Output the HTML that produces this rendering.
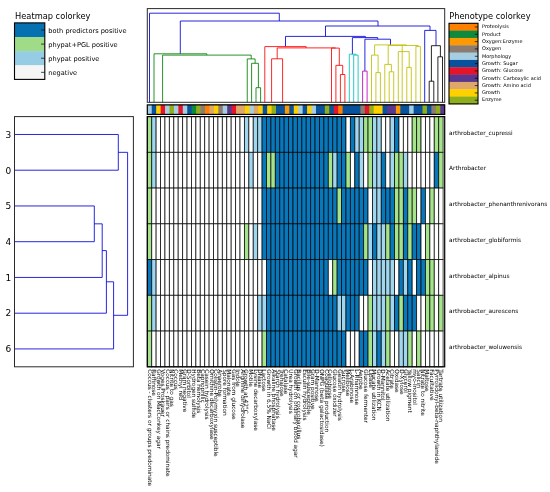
<!DOCTYPE html>
<html><head><meta charset="utf-8"><title>Heatmap</title>
<style>html,body{margin:0;padding:0;background:#fff}svg{display:block}</style></head>
<body>
<svg width="550" height="492" viewBox="0 0 550 492" font-family="'DejaVu Sans', 'Liberation Sans', sans-serif" fill="#000">
<rect width="550" height="492" fill="#fff"/>
<text x="15.1" y="19.3" font-size="8.25">Heatmap colorkey</text>
<rect x="14.5" y="22.90" width="30.3" height="14.43" fill="#0571b0"/>
<line x1="41.0" x2="44.8" y1="29.96" y2="29.96" stroke="#000" stroke-width="0.7"/>
<text x="48.3" y="32.51" font-size="6.6">both predictors positive</text>
<rect x="14.5" y="37.02" width="30.3" height="14.43" fill="#a0dc87"/>
<line x1="41.0" x2="44.8" y1="44.09" y2="44.09" stroke="#000" stroke-width="0.7"/>
<text x="48.3" y="46.64" font-size="6.6">phypat+PGL positive</text>
<rect x="14.5" y="51.15" width="30.3" height="14.43" fill="#96cde4"/>
<line x1="41.0" x2="44.8" y1="58.21" y2="58.21" stroke="#000" stroke-width="0.7"/>
<text x="48.3" y="60.76" font-size="6.6">phypat positive</text>
<rect x="14.5" y="65.28" width="30.3" height="14.43" fill="#f5f5f5"/>
<line x1="41.0" x2="44.8" y1="72.34" y2="72.34" stroke="#000" stroke-width="0.7"/>
<text x="48.3" y="74.89" font-size="6.6">negative</text>
<rect x="14.5" y="22.9" width="30.3" height="56.50" fill="none" stroke="#000" stroke-width="1.1"/>
<text x="449.2" y="19.2" font-size="8.25">Phenotype colorkey</text>
<rect x="449" y="23.30" width="29" height="7.63" fill="#ff7f00"/>
<line x1="474.8" x2="478" y1="26.96" y2="26.96" stroke="#000" stroke-width="0.7"/>
<text x="482" y="28.21" font-size="4.96">Proteolysis</text>
<rect x="449" y="30.63" width="29" height="7.63" fill="#0f8a3c"/>
<line x1="474.8" x2="478" y1="34.29" y2="34.29" stroke="#000" stroke-width="0.7"/>
<text x="482" y="35.54" font-size="4.96">Product</text>
<rect x="449" y="37.95" width="29" height="7.63" fill="#ff9900"/>
<line x1="474.8" x2="478" y1="41.62" y2="41.62" stroke="#000" stroke-width="0.7"/>
<text x="482" y="42.87" font-size="4.96">Oxygen:Enzyme</text>
<rect x="449" y="45.28" width="29" height="7.63" fill="#8c7b6e"/>
<line x1="474.8" x2="478" y1="48.95" y2="48.95" stroke="#000" stroke-width="0.7"/>
<text x="482" y="50.20" font-size="4.96">Oxygen</text>
<rect x="449" y="52.61" width="29" height="7.63" fill="#a6cee3"/>
<line x1="474.8" x2="478" y1="56.27" y2="56.27" stroke="#000" stroke-width="0.7"/>
<text x="482" y="57.52" font-size="4.96">Morphology</text>
<rect x="449" y="59.94" width="29" height="7.63" fill="#08519c"/>
<line x1="474.8" x2="478" y1="63.60" y2="63.60" stroke="#000" stroke-width="0.7"/>
<text x="482" y="64.85" font-size="4.96">Growth: Sugar</text>
<rect x="449" y="67.26" width="29" height="7.63" fill="#e6142a"/>
<line x1="474.8" x2="478" y1="70.93" y2="70.93" stroke="#000" stroke-width="0.7"/>
<text x="482" y="72.18" font-size="4.96">Growth: Glucose</text>
<rect x="449" y="74.59" width="29" height="7.63" fill="#59378f"/>
<line x1="474.8" x2="478" y1="78.25" y2="78.25" stroke="#000" stroke-width="0.7"/>
<text x="482" y="79.50" font-size="4.96">Growth: Carboxylic acid</text>
<rect x="449" y="81.92" width="29" height="7.63" fill="#e0a868"/>
<line x1="474.8" x2="478" y1="85.58" y2="85.58" stroke="#000" stroke-width="0.7"/>
<text x="482" y="86.83" font-size="4.96">Growth: Amino acid</text>
<rect x="449" y="89.25" width="29" height="7.63" fill="#ffd000"/>
<line x1="474.8" x2="478" y1="92.91" y2="92.91" stroke="#000" stroke-width="0.7"/>
<text x="482" y="94.16" font-size="4.96">Growth</text>
<rect x="449" y="96.57" width="29" height="7.63" fill="#8fae1b"/>
<line x1="474.8" x2="478" y1="100.24" y2="100.24" stroke="#000" stroke-width="0.7"/>
<text x="482" y="101.49" font-size="4.96">Enzyme</text>
<rect x="449" y="23.3" width="29" height="80.60" fill="none" stroke="#000" stroke-width="1.1"/>
<path d="M149.50 102.30 L149.50 13.20 L279.30 13.20 L279.30 21.00 M180.30 53.80 L180.30 21.00 L378.00 21.00 L378.00 26.00 M325.50 36.40 L325.50 26.00 L430.00 26.00 L430.00 30.40 M424.70 102.30 L424.70 30.40 L436.00 30.40 L436.00 45.70 M285.50 46.60 L285.50 36.40 L365.40 36.40 L365.40 37.60 M352.40 54.20 L352.40 37.60 L377.70 37.60 L377.70 39.20 M364.90 71.10 L364.90 39.20 L390.50 39.20 L390.50 44.90" fill="none" stroke="#0000d8" stroke-width="0.85" stroke-linejoin="miter"/>
<path d="M154.00 102.30 L154.00 53.80 L206.80 53.80 L206.80 55.10 M162.60 102.30 L162.60 55.10 L251.20 55.10 L251.20 58.90 M247.25 102.30 L247.25 58.90 L255.10 58.90 L255.10 63.30 M251.60 102.30 L251.60 63.30 L258.40 63.30 L258.40 87.70 M256.00 102.30 L256.00 87.70 L260.60 87.70 L260.60 102.30" fill="none" stroke="#008000" stroke-width="0.85" stroke-linejoin="miter"/>
<path d="M264.80 102.30 L264.80 46.60 L306.20 46.60 L306.20 47.90 M277.20 58.80 L277.20 47.90 L335.40 47.90 L335.40 48.10 M271.60 102.30 L271.60 58.80 L282.60 58.80 L282.60 102.30 M331.50 102.30 L331.50 48.10 L339.30 48.10 L339.30 65.35 M335.90 102.30 L335.90 65.35 L342.70 65.35 L342.70 74.50 M340.40 102.30 L340.40 74.50 L344.90 74.50 L344.90 102.30" fill="none" stroke="#ff0000" stroke-width="0.85" stroke-linejoin="miter"/>
<path d="M349.30 102.30 L349.30 54.20 L355.90 54.20 L355.90 55.10 M353.70 102.30 L353.70 55.10 L358.10 55.10 L358.10 102.30" fill="none" stroke="#00bfbf" stroke-width="0.85" stroke-linejoin="miter"/>
<path d="M362.60 102.30 L362.60 71.10 L367.10 71.10 L367.10 102.30" fill="none" stroke="#bf00bf" stroke-width="0.85" stroke-linejoin="miter"/>
<path d="M374.60 55.10 L374.60 44.90 L406.40 44.90 L406.40 45.50 M388.20 64.40 L388.20 45.50 L418.10 45.50 L418.10 46.40 M402.20 45.50 L402.20 102.30 M415.90 102.30 L415.90 46.40 L420.40 46.40 L420.40 102.30 M371.50 102.30 L371.50 55.10 L378.10 55.10 L378.10 72.60 M375.90 102.30 L375.90 72.60 L380.40 72.60 L380.40 102.30 M384.80 102.30 L384.80 64.40 L391.40 64.40 L391.40 71.80 M389.20 102.30 L389.20 71.80 L393.70 71.80 L393.70 102.30 M398.30 102.30 L398.30 51.60 L409.20 51.60 L409.20 67.40 M406.80 102.30 L406.80 67.40 L411.30 67.40 L411.30 102.30" fill="none" stroke="#bfbf00" stroke-width="0.85" stroke-linejoin="miter"/>
<path d="M431.40 81.20 L431.40 45.70 L440.40 45.70 L440.40 56.80 M437.90 102.30 L437.90 56.80 L442.50 56.80 L442.50 102.30 M429.20 102.30 L429.20 81.20 L433.80 81.20 L433.80 102.30" fill="none" stroke="#000" stroke-width="0.85" stroke-linejoin="miter"/>
<rect x="147.3" y="8.6" width="297.40" height="93.70" fill="none" stroke="#2a2a2a" stroke-width="1.0"/>
<rect x="147.3" y="104.9" width="297.40" height="9.50" fill="#a6cee3"/>
<rect x="147.30" y="104.9" width="297.40" height="9.50" fill="#a6cee3"/>
<rect x="151.74" y="104.9" width="292.96" height="9.50" fill="#08519c"/>
<rect x="156.18" y="104.9" width="288.52" height="9.50" fill="#ffd000"/>
<rect x="160.62" y="104.9" width="284.08" height="9.50" fill="#e6142a"/>
<rect x="165.06" y="104.9" width="279.64" height="9.50" fill="#a6cee3"/>
<rect x="169.49" y="104.9" width="275.21" height="9.50" fill="#8fae1b"/>
<rect x="173.93" y="104.9" width="270.77" height="9.50" fill="#a6cee3"/>
<rect x="178.37" y="104.9" width="266.33" height="9.50" fill="#e6142a"/>
<rect x="182.81" y="104.9" width="261.89" height="9.50" fill="#a6cee3"/>
<rect x="187.25" y="104.9" width="257.45" height="9.50" fill="#08519c"/>
<rect x="191.69" y="104.9" width="253.01" height="9.50" fill="#0f8a3c"/>
<rect x="196.13" y="104.9" width="248.57" height="9.50" fill="#8fae1b"/>
<rect x="200.57" y="104.9" width="244.13" height="9.50" fill="#8c7b6e"/>
<rect x="205.00" y="104.9" width="239.70" height="9.50" fill="#ff7f00"/>
<rect x="209.44" y="104.9" width="235.26" height="9.50" fill="#e0a868"/>
<rect x="213.88" y="104.9" width="230.82" height="9.50" fill="#ffd000"/>
<rect x="218.32" y="104.9" width="226.38" height="9.50" fill="#8c7b6e"/>
<rect x="222.76" y="104.9" width="221.94" height="9.50" fill="#a6cee3"/>
<rect x="227.20" y="104.9" width="217.50" height="9.50" fill="#59378f"/>
<rect x="231.64" y="104.9" width="213.06" height="9.50" fill="#e6142a"/>
<rect x="236.08" y="104.9" width="208.62" height="9.50" fill="#e0a868"/>
<rect x="244.95" y="104.9" width="199.75" height="9.50" fill="#ffd000"/>
<rect x="249.39" y="104.9" width="195.31" height="9.50" fill="#a6cee3"/>
<rect x="253.83" y="104.9" width="190.87" height="9.50" fill="#e0a868"/>
<rect x="258.27" y="104.9" width="186.43" height="9.50" fill="#ffd000"/>
<rect x="262.71" y="104.9" width="181.99" height="9.50" fill="#08519c"/>
<rect x="267.15" y="104.9" width="177.55" height="9.50" fill="#ffd000"/>
<rect x="271.59" y="104.9" width="173.11" height="9.50" fill="#8fae1b"/>
<rect x="276.03" y="104.9" width="168.67" height="9.50" fill="#08519c"/>
<rect x="284.90" y="104.9" width="159.80" height="9.50" fill="#ff9900"/>
<rect x="289.34" y="104.9" width="155.36" height="9.50" fill="#08519c"/>
<rect x="293.78" y="104.9" width="150.92" height="9.50" fill="#ffd000"/>
<rect x="298.22" y="104.9" width="146.48" height="9.50" fill="#a6cee3"/>
<rect x="302.66" y="104.9" width="142.04" height="9.50" fill="#08519c"/>
<rect x="307.10" y="104.9" width="137.60" height="9.50" fill="#ffd000"/>
<rect x="311.54" y="104.9" width="133.16" height="9.50" fill="#a6cee3"/>
<rect x="315.97" y="104.9" width="128.73" height="9.50" fill="#08519c"/>
<rect x="324.85" y="104.9" width="119.85" height="9.50" fill="#8fae1b"/>
<rect x="329.29" y="104.9" width="115.41" height="9.50" fill="#08519c"/>
<rect x="333.73" y="104.9" width="110.97" height="9.50" fill="#e6142a"/>
<rect x="338.17" y="104.9" width="106.53" height="9.50" fill="#ff7f00"/>
<rect x="342.61" y="104.9" width="102.09" height="9.50" fill="#08519c"/>
<rect x="360.36" y="104.9" width="84.34" height="9.50" fill="#8c7b6e"/>
<rect x="364.80" y="104.9" width="79.90" height="9.50" fill="#e6142a"/>
<rect x="369.24" y="104.9" width="75.46" height="9.50" fill="#8fae1b"/>
<rect x="373.68" y="104.9" width="71.02" height="9.50" fill="#ffd000"/>
<rect x="382.56" y="104.9" width="62.14" height="9.50" fill="#08519c"/>
<rect x="387.00" y="104.9" width="57.70" height="9.50" fill="#59378f"/>
<rect x="395.87" y="104.9" width="48.83" height="9.50" fill="#ff9900"/>
<rect x="400.31" y="104.9" width="44.39" height="9.50" fill="#08519c"/>
<rect x="409.19" y="104.9" width="35.51" height="9.50" fill="#a6cee3"/>
<rect x="413.63" y="104.9" width="31.07" height="9.50" fill="#08519c"/>
<rect x="422.51" y="104.9" width="22.19" height="9.50" fill="#8fae1b"/>
<rect x="426.94" y="104.9" width="17.76" height="9.50" fill="#08519c"/>
<rect x="431.38" y="104.9" width="13.32" height="9.50" fill="#8c7b6e"/>
<rect x="435.82" y="104.9" width="8.88" height="9.50" fill="#8fae1b"/>
<rect x="440.26" y="104.9" width="4.44" height="9.50" fill="#59378f"/>
<rect x="147.3" y="104.9" width="297.40" height="9.50" fill="none" stroke="#000" stroke-width="1.2"/>
<rect x="147.3" y="116.6" width="297.40" height="250.20" fill="#fff"/>
<rect x="147.30" y="116.60" width="4.415" height="35.74" fill="#a6e48c" stroke="#000" stroke-opacity="0.8" stroke-width="0.9"/>
<rect x="151.72" y="116.60" width="4.415" height="35.74" fill="#a0d6ee" stroke="#000" stroke-opacity="0.8" stroke-width="0.9"/>
<rect x="156.13" y="116.60" width="4.415" height="35.74" fill="#ffffff" stroke="#000" stroke-opacity="0.8" stroke-width="0.9"/>
<rect x="160.55" y="116.60" width="4.415" height="35.74" fill="#ffffff" stroke="#000" stroke-opacity="0.8" stroke-width="0.9"/>
<rect x="164.96" y="116.60" width="4.415" height="35.74" fill="#ffffff" stroke="#000" stroke-opacity="0.8" stroke-width="0.9"/>
<rect x="169.38" y="116.60" width="4.415" height="35.74" fill="#ffffff" stroke="#000" stroke-opacity="0.8" stroke-width="0.9"/>
<rect x="173.79" y="116.60" width="4.415" height="35.74" fill="#ffffff" stroke="#000" stroke-opacity="0.8" stroke-width="0.9"/>
<rect x="178.21" y="116.60" width="4.415" height="35.74" fill="#ffffff" stroke="#000" stroke-opacity="0.8" stroke-width="0.9"/>
<rect x="182.62" y="116.60" width="4.415" height="35.74" fill="#ffffff" stroke="#000" stroke-opacity="0.8" stroke-width="0.9"/>
<rect x="187.04" y="116.60" width="4.415" height="35.74" fill="#ffffff" stroke="#000" stroke-opacity="0.8" stroke-width="0.9"/>
<rect x="191.45" y="116.60" width="4.415" height="35.74" fill="#ffffff" stroke="#000" stroke-opacity="0.8" stroke-width="0.9"/>
<rect x="195.87" y="116.60" width="4.415" height="35.74" fill="#ffffff" stroke="#000" stroke-opacity="0.8" stroke-width="0.9"/>
<rect x="200.28" y="116.60" width="4.415" height="35.74" fill="#ffffff" stroke="#000" stroke-opacity="0.8" stroke-width="0.9"/>
<rect x="204.70" y="116.60" width="4.415" height="35.74" fill="#ffffff" stroke="#000" stroke-opacity="0.8" stroke-width="0.9"/>
<rect x="209.11" y="116.60" width="4.415" height="35.74" fill="#ffffff" stroke="#000" stroke-opacity="0.8" stroke-width="0.9"/>
<rect x="213.53" y="116.60" width="4.415" height="35.74" fill="#ffffff" stroke="#000" stroke-opacity="0.8" stroke-width="0.9"/>
<rect x="217.94" y="116.60" width="4.415" height="35.74" fill="#ffffff" stroke="#000" stroke-opacity="0.8" stroke-width="0.9"/>
<rect x="222.36" y="116.60" width="4.415" height="35.74" fill="#ffffff" stroke="#000" stroke-opacity="0.8" stroke-width="0.9"/>
<rect x="226.77" y="116.60" width="4.415" height="35.74" fill="#ffffff" stroke="#000" stroke-opacity="0.8" stroke-width="0.9"/>
<rect x="231.19" y="116.60" width="4.415" height="35.74" fill="#ffffff" stroke="#000" stroke-opacity="0.8" stroke-width="0.9"/>
<rect x="235.60" y="116.60" width="4.415" height="35.74" fill="#ffffff" stroke="#000" stroke-opacity="0.8" stroke-width="0.9"/>
<rect x="240.02" y="116.60" width="4.415" height="35.74" fill="#ffffff" stroke="#000" stroke-opacity="0.8" stroke-width="0.9"/>
<rect x="244.43" y="116.60" width="4.415" height="35.74" fill="#a0d6ee" stroke="#000" stroke-opacity="0.8" stroke-width="0.9"/>
<rect x="248.85" y="116.60" width="4.415" height="35.74" fill="#ffffff" stroke="#000" stroke-opacity="0.8" stroke-width="0.9"/>
<rect x="253.26" y="116.60" width="4.415" height="35.74" fill="#a0d6ee" stroke="#000" stroke-opacity="0.8" stroke-width="0.9"/>
<rect x="257.68" y="116.60" width="4.415" height="35.74" fill="#a0d6ee" stroke="#000" stroke-opacity="0.8" stroke-width="0.9"/>
<rect x="262.09" y="116.60" width="4.415" height="35.74" fill="#0878bc" stroke="#000" stroke-opacity="0.8" stroke-width="0.9"/>
<rect x="266.50" y="116.60" width="4.415" height="35.74" fill="#0878bc" stroke="#000" stroke-opacity="0.8" stroke-width="0.9"/>
<rect x="270.92" y="116.60" width="4.415" height="35.74" fill="#0878bc" stroke="#000" stroke-opacity="0.8" stroke-width="0.9"/>
<rect x="275.34" y="116.60" width="4.415" height="35.74" fill="#0878bc" stroke="#000" stroke-opacity="0.8" stroke-width="0.9"/>
<rect x="279.75" y="116.60" width="4.415" height="35.74" fill="#0878bc" stroke="#000" stroke-opacity="0.8" stroke-width="0.9"/>
<rect x="284.17" y="116.60" width="4.415" height="35.74" fill="#0878bc" stroke="#000" stroke-opacity="0.8" stroke-width="0.9"/>
<rect x="288.58" y="116.60" width="4.415" height="35.74" fill="#0878bc" stroke="#000" stroke-opacity="0.8" stroke-width="0.9"/>
<rect x="293.00" y="116.60" width="4.415" height="35.74" fill="#0878bc" stroke="#000" stroke-opacity="0.8" stroke-width="0.9"/>
<rect x="297.41" y="116.60" width="4.415" height="35.74" fill="#0878bc" stroke="#000" stroke-opacity="0.8" stroke-width="0.9"/>
<rect x="301.83" y="116.60" width="4.415" height="35.74" fill="#0878bc" stroke="#000" stroke-opacity="0.8" stroke-width="0.9"/>
<rect x="306.24" y="116.60" width="4.415" height="35.74" fill="#0878bc" stroke="#000" stroke-opacity="0.8" stroke-width="0.9"/>
<rect x="310.65" y="116.60" width="4.415" height="35.74" fill="#0878bc" stroke="#000" stroke-opacity="0.8" stroke-width="0.9"/>
<rect x="315.07" y="116.60" width="4.415" height="35.74" fill="#0878bc" stroke="#000" stroke-opacity="0.8" stroke-width="0.9"/>
<rect x="319.49" y="116.60" width="4.415" height="35.74" fill="#0878bc" stroke="#000" stroke-opacity="0.8" stroke-width="0.9"/>
<rect x="323.90" y="116.60" width="4.415" height="35.74" fill="#0878bc" stroke="#000" stroke-opacity="0.8" stroke-width="0.9"/>
<rect x="328.32" y="116.60" width="4.415" height="35.74" fill="#0878bc" stroke="#000" stroke-opacity="0.8" stroke-width="0.9"/>
<rect x="332.73" y="116.60" width="4.415" height="35.74" fill="#0878bc" stroke="#000" stroke-opacity="0.8" stroke-width="0.9"/>
<rect x="337.14" y="116.60" width="4.415" height="35.74" fill="#0878bc" stroke="#000" stroke-opacity="0.8" stroke-width="0.9"/>
<rect x="341.56" y="116.60" width="4.415" height="35.74" fill="#0878bc" stroke="#000" stroke-opacity="0.8" stroke-width="0.9"/>
<rect x="345.98" y="116.60" width="4.415" height="35.74" fill="#ffffff" stroke="#000" stroke-opacity="0.8" stroke-width="0.9"/>
<rect x="350.39" y="116.60" width="4.415" height="35.74" fill="#0878bc" stroke="#000" stroke-opacity="0.8" stroke-width="0.9"/>
<rect x="354.81" y="116.60" width="4.415" height="35.74" fill="#a0d6ee" stroke="#000" stroke-opacity="0.8" stroke-width="0.9"/>
<rect x="359.22" y="116.60" width="4.415" height="35.74" fill="#a0d6ee" stroke="#000" stroke-opacity="0.8" stroke-width="0.9"/>
<rect x="363.63" y="116.60" width="4.415" height="35.74" fill="#a6e48c" stroke="#000" stroke-opacity="0.8" stroke-width="0.9"/>
<rect x="368.05" y="116.60" width="4.415" height="35.74" fill="#a6e48c" stroke="#000" stroke-opacity="0.8" stroke-width="0.9"/>
<rect x="372.47" y="116.60" width="4.415" height="35.74" fill="#a0d6ee" stroke="#000" stroke-opacity="0.8" stroke-width="0.9"/>
<rect x="376.88" y="116.60" width="4.415" height="35.74" fill="#a0d6ee" stroke="#000" stroke-opacity="0.8" stroke-width="0.9"/>
<rect x="381.30" y="116.60" width="4.415" height="35.74" fill="#ffffff" stroke="#000" stroke-opacity="0.8" stroke-width="0.9"/>
<rect x="385.71" y="116.60" width="4.415" height="35.74" fill="#ffffff" stroke="#000" stroke-opacity="0.8" stroke-width="0.9"/>
<rect x="390.12" y="116.60" width="4.415" height="35.74" fill="#a0d6ee" stroke="#000" stroke-opacity="0.8" stroke-width="0.9"/>
<rect x="394.54" y="116.60" width="4.415" height="35.74" fill="#0878bc" stroke="#000" stroke-opacity="0.8" stroke-width="0.9"/>
<rect x="398.96" y="116.60" width="4.415" height="35.74" fill="#ffffff" stroke="#000" stroke-opacity="0.8" stroke-width="0.9"/>
<rect x="403.37" y="116.60" width="4.415" height="35.74" fill="#ffffff" stroke="#000" stroke-opacity="0.8" stroke-width="0.9"/>
<rect x="407.79" y="116.60" width="4.415" height="35.74" fill="#ffffff" stroke="#000" stroke-opacity="0.8" stroke-width="0.9"/>
<rect x="412.20" y="116.60" width="4.415" height="35.74" fill="#a6e48c" stroke="#000" stroke-opacity="0.8" stroke-width="0.9"/>
<rect x="416.62" y="116.60" width="4.415" height="35.74" fill="#a6e48c" stroke="#000" stroke-opacity="0.8" stroke-width="0.9"/>
<rect x="421.03" y="116.60" width="4.415" height="35.74" fill="#ffffff" stroke="#000" stroke-opacity="0.8" stroke-width="0.9"/>
<rect x="425.44" y="116.60" width="4.415" height="35.74" fill="#ffffff" stroke="#000" stroke-opacity="0.8" stroke-width="0.9"/>
<rect x="429.86" y="116.60" width="4.415" height="35.74" fill="#ffffff" stroke="#000" stroke-opacity="0.8" stroke-width="0.9"/>
<rect x="434.28" y="116.60" width="4.415" height="35.74" fill="#a6e48c" stroke="#000" stroke-opacity="0.8" stroke-width="0.9"/>
<rect x="438.69" y="116.60" width="4.415" height="35.74" fill="#a6e48c" stroke="#000" stroke-opacity="0.8" stroke-width="0.9"/>
<rect x="147.30" y="152.34" width="4.415" height="35.74" fill="#a6e48c" stroke="#000" stroke-opacity="0.8" stroke-width="0.9"/>
<rect x="151.72" y="152.34" width="4.415" height="35.74" fill="#a0d6ee" stroke="#000" stroke-opacity="0.8" stroke-width="0.9"/>
<rect x="156.13" y="152.34" width="4.415" height="35.74" fill="#ffffff" stroke="#000" stroke-opacity="0.8" stroke-width="0.9"/>
<rect x="160.55" y="152.34" width="4.415" height="35.74" fill="#ffffff" stroke="#000" stroke-opacity="0.8" stroke-width="0.9"/>
<rect x="164.96" y="152.34" width="4.415" height="35.74" fill="#ffffff" stroke="#000" stroke-opacity="0.8" stroke-width="0.9"/>
<rect x="169.38" y="152.34" width="4.415" height="35.74" fill="#ffffff" stroke="#000" stroke-opacity="0.8" stroke-width="0.9"/>
<rect x="173.79" y="152.34" width="4.415" height="35.74" fill="#ffffff" stroke="#000" stroke-opacity="0.8" stroke-width="0.9"/>
<rect x="178.21" y="152.34" width="4.415" height="35.74" fill="#ffffff" stroke="#000" stroke-opacity="0.8" stroke-width="0.9"/>
<rect x="182.62" y="152.34" width="4.415" height="35.74" fill="#ffffff" stroke="#000" stroke-opacity="0.8" stroke-width="0.9"/>
<rect x="187.04" y="152.34" width="4.415" height="35.74" fill="#ffffff" stroke="#000" stroke-opacity="0.8" stroke-width="0.9"/>
<rect x="191.45" y="152.34" width="4.415" height="35.74" fill="#ffffff" stroke="#000" stroke-opacity="0.8" stroke-width="0.9"/>
<rect x="195.87" y="152.34" width="4.415" height="35.74" fill="#ffffff" stroke="#000" stroke-opacity="0.8" stroke-width="0.9"/>
<rect x="200.28" y="152.34" width="4.415" height="35.74" fill="#ffffff" stroke="#000" stroke-opacity="0.8" stroke-width="0.9"/>
<rect x="204.70" y="152.34" width="4.415" height="35.74" fill="#ffffff" stroke="#000" stroke-opacity="0.8" stroke-width="0.9"/>
<rect x="209.11" y="152.34" width="4.415" height="35.74" fill="#ffffff" stroke="#000" stroke-opacity="0.8" stroke-width="0.9"/>
<rect x="213.53" y="152.34" width="4.415" height="35.74" fill="#ffffff" stroke="#000" stroke-opacity="0.8" stroke-width="0.9"/>
<rect x="217.94" y="152.34" width="4.415" height="35.74" fill="#ffffff" stroke="#000" stroke-opacity="0.8" stroke-width="0.9"/>
<rect x="222.36" y="152.34" width="4.415" height="35.74" fill="#ffffff" stroke="#000" stroke-opacity="0.8" stroke-width="0.9"/>
<rect x="226.77" y="152.34" width="4.415" height="35.74" fill="#ffffff" stroke="#000" stroke-opacity="0.8" stroke-width="0.9"/>
<rect x="231.19" y="152.34" width="4.415" height="35.74" fill="#ffffff" stroke="#000" stroke-opacity="0.8" stroke-width="0.9"/>
<rect x="235.60" y="152.34" width="4.415" height="35.74" fill="#ffffff" stroke="#000" stroke-opacity="0.8" stroke-width="0.9"/>
<rect x="240.02" y="152.34" width="4.415" height="35.74" fill="#ffffff" stroke="#000" stroke-opacity="0.8" stroke-width="0.9"/>
<rect x="244.43" y="152.34" width="4.415" height="35.74" fill="#ffffff" stroke="#000" stroke-opacity="0.8" stroke-width="0.9"/>
<rect x="248.85" y="152.34" width="4.415" height="35.74" fill="#a0d6ee" stroke="#000" stroke-opacity="0.8" stroke-width="0.9"/>
<rect x="253.26" y="152.34" width="4.415" height="35.74" fill="#ffffff" stroke="#000" stroke-opacity="0.8" stroke-width="0.9"/>
<rect x="257.68" y="152.34" width="4.415" height="35.74" fill="#ffffff" stroke="#000" stroke-opacity="0.8" stroke-width="0.9"/>
<rect x="262.09" y="152.34" width="4.415" height="35.74" fill="#0878bc" stroke="#000" stroke-opacity="0.8" stroke-width="0.9"/>
<rect x="266.50" y="152.34" width="4.415" height="35.74" fill="#a6e48c" stroke="#000" stroke-opacity="0.8" stroke-width="0.9"/>
<rect x="270.92" y="152.34" width="4.415" height="35.74" fill="#a6e48c" stroke="#000" stroke-opacity="0.8" stroke-width="0.9"/>
<rect x="275.34" y="152.34" width="4.415" height="35.74" fill="#0878bc" stroke="#000" stroke-opacity="0.8" stroke-width="0.9"/>
<rect x="279.75" y="152.34" width="4.415" height="35.74" fill="#0878bc" stroke="#000" stroke-opacity="0.8" stroke-width="0.9"/>
<rect x="284.17" y="152.34" width="4.415" height="35.74" fill="#0878bc" stroke="#000" stroke-opacity="0.8" stroke-width="0.9"/>
<rect x="288.58" y="152.34" width="4.415" height="35.74" fill="#0878bc" stroke="#000" stroke-opacity="0.8" stroke-width="0.9"/>
<rect x="293.00" y="152.34" width="4.415" height="35.74" fill="#0878bc" stroke="#000" stroke-opacity="0.8" stroke-width="0.9"/>
<rect x="297.41" y="152.34" width="4.415" height="35.74" fill="#0878bc" stroke="#000" stroke-opacity="0.8" stroke-width="0.9"/>
<rect x="301.83" y="152.34" width="4.415" height="35.74" fill="#0878bc" stroke="#000" stroke-opacity="0.8" stroke-width="0.9"/>
<rect x="306.24" y="152.34" width="4.415" height="35.74" fill="#0878bc" stroke="#000" stroke-opacity="0.8" stroke-width="0.9"/>
<rect x="310.65" y="152.34" width="4.415" height="35.74" fill="#0878bc" stroke="#000" stroke-opacity="0.8" stroke-width="0.9"/>
<rect x="315.07" y="152.34" width="4.415" height="35.74" fill="#0878bc" stroke="#000" stroke-opacity="0.8" stroke-width="0.9"/>
<rect x="319.49" y="152.34" width="4.415" height="35.74" fill="#0878bc" stroke="#000" stroke-opacity="0.8" stroke-width="0.9"/>
<rect x="323.90" y="152.34" width="4.415" height="35.74" fill="#0878bc" stroke="#000" stroke-opacity="0.8" stroke-width="0.9"/>
<rect x="328.32" y="152.34" width="4.415" height="35.74" fill="#a6e48c" stroke="#000" stroke-opacity="0.8" stroke-width="0.9"/>
<rect x="332.73" y="152.34" width="4.415" height="35.74" fill="#a0d6ee" stroke="#000" stroke-opacity="0.8" stroke-width="0.9"/>
<rect x="337.14" y="152.34" width="4.415" height="35.74" fill="#0878bc" stroke="#000" stroke-opacity="0.8" stroke-width="0.9"/>
<rect x="341.56" y="152.34" width="4.415" height="35.74" fill="#0878bc" stroke="#000" stroke-opacity="0.8" stroke-width="0.9"/>
<rect x="345.98" y="152.34" width="4.415" height="35.74" fill="#a6e48c" stroke="#000" stroke-opacity="0.8" stroke-width="0.9"/>
<rect x="350.39" y="152.34" width="4.415" height="35.74" fill="#ffffff" stroke="#000" stroke-opacity="0.8" stroke-width="0.9"/>
<rect x="354.81" y="152.34" width="4.415" height="35.74" fill="#0878bc" stroke="#000" stroke-opacity="0.8" stroke-width="0.9"/>
<rect x="359.22" y="152.34" width="4.415" height="35.74" fill="#a0d6ee" stroke="#000" stroke-opacity="0.8" stroke-width="0.9"/>
<rect x="363.63" y="152.34" width="4.415" height="35.74" fill="#ffffff" stroke="#000" stroke-opacity="0.8" stroke-width="0.9"/>
<rect x="368.05" y="152.34" width="4.415" height="35.74" fill="#a6e48c" stroke="#000" stroke-opacity="0.8" stroke-width="0.9"/>
<rect x="372.47" y="152.34" width="4.415" height="35.74" fill="#a0d6ee" stroke="#000" stroke-opacity="0.8" stroke-width="0.9"/>
<rect x="376.88" y="152.34" width="4.415" height="35.74" fill="#a0d6ee" stroke="#000" stroke-opacity="0.8" stroke-width="0.9"/>
<rect x="381.30" y="152.34" width="4.415" height="35.74" fill="#0878bc" stroke="#000" stroke-opacity="0.8" stroke-width="0.9"/>
<rect x="385.71" y="152.34" width="4.415" height="35.74" fill="#ffffff" stroke="#000" stroke-opacity="0.8" stroke-width="0.9"/>
<rect x="390.12" y="152.34" width="4.415" height="35.74" fill="#a0d6ee" stroke="#000" stroke-opacity="0.8" stroke-width="0.9"/>
<rect x="394.54" y="152.34" width="4.415" height="35.74" fill="#a6e48c" stroke="#000" stroke-opacity="0.8" stroke-width="0.9"/>
<rect x="398.96" y="152.34" width="4.415" height="35.74" fill="#a6e48c" stroke="#000" stroke-opacity="0.8" stroke-width="0.9"/>
<rect x="403.37" y="152.34" width="4.415" height="35.74" fill="#a0d6ee" stroke="#000" stroke-opacity="0.8" stroke-width="0.9"/>
<rect x="407.79" y="152.34" width="4.415" height="35.74" fill="#ffffff" stroke="#000" stroke-opacity="0.8" stroke-width="0.9"/>
<rect x="412.20" y="152.34" width="4.415" height="35.74" fill="#ffffff" stroke="#000" stroke-opacity="0.8" stroke-width="0.9"/>
<rect x="416.62" y="152.34" width="4.415" height="35.74" fill="#ffffff" stroke="#000" stroke-opacity="0.8" stroke-width="0.9"/>
<rect x="421.03" y="152.34" width="4.415" height="35.74" fill="#ffffff" stroke="#000" stroke-opacity="0.8" stroke-width="0.9"/>
<rect x="425.44" y="152.34" width="4.415" height="35.74" fill="#ffffff" stroke="#000" stroke-opacity="0.8" stroke-width="0.9"/>
<rect x="429.86" y="152.34" width="4.415" height="35.74" fill="#ffffff" stroke="#000" stroke-opacity="0.8" stroke-width="0.9"/>
<rect x="434.28" y="152.34" width="4.415" height="35.74" fill="#0878bc" stroke="#000" stroke-opacity="0.8" stroke-width="0.9"/>
<rect x="438.69" y="152.34" width="4.415" height="35.74" fill="#a6e48c" stroke="#000" stroke-opacity="0.8" stroke-width="0.9"/>
<rect x="147.30" y="188.09" width="4.415" height="35.74" fill="#a6e48c" stroke="#000" stroke-opacity="0.8" stroke-width="0.9"/>
<rect x="151.72" y="188.09" width="4.415" height="35.74" fill="#ffffff" stroke="#000" stroke-opacity="0.8" stroke-width="0.9"/>
<rect x="156.13" y="188.09" width="4.415" height="35.74" fill="#ffffff" stroke="#000" stroke-opacity="0.8" stroke-width="0.9"/>
<rect x="160.55" y="188.09" width="4.415" height="35.74" fill="#ffffff" stroke="#000" stroke-opacity="0.8" stroke-width="0.9"/>
<rect x="164.96" y="188.09" width="4.415" height="35.74" fill="#ffffff" stroke="#000" stroke-opacity="0.8" stroke-width="0.9"/>
<rect x="169.38" y="188.09" width="4.415" height="35.74" fill="#ffffff" stroke="#000" stroke-opacity="0.8" stroke-width="0.9"/>
<rect x="173.79" y="188.09" width="4.415" height="35.74" fill="#ffffff" stroke="#000" stroke-opacity="0.8" stroke-width="0.9"/>
<rect x="178.21" y="188.09" width="4.415" height="35.74" fill="#ffffff" stroke="#000" stroke-opacity="0.8" stroke-width="0.9"/>
<rect x="182.62" y="188.09" width="4.415" height="35.74" fill="#ffffff" stroke="#000" stroke-opacity="0.8" stroke-width="0.9"/>
<rect x="187.04" y="188.09" width="4.415" height="35.74" fill="#ffffff" stroke="#000" stroke-opacity="0.8" stroke-width="0.9"/>
<rect x="191.45" y="188.09" width="4.415" height="35.74" fill="#ffffff" stroke="#000" stroke-opacity="0.8" stroke-width="0.9"/>
<rect x="195.87" y="188.09" width="4.415" height="35.74" fill="#ffffff" stroke="#000" stroke-opacity="0.8" stroke-width="0.9"/>
<rect x="200.28" y="188.09" width="4.415" height="35.74" fill="#ffffff" stroke="#000" stroke-opacity="0.8" stroke-width="0.9"/>
<rect x="204.70" y="188.09" width="4.415" height="35.74" fill="#ffffff" stroke="#000" stroke-opacity="0.8" stroke-width="0.9"/>
<rect x="209.11" y="188.09" width="4.415" height="35.74" fill="#ffffff" stroke="#000" stroke-opacity="0.8" stroke-width="0.9"/>
<rect x="213.53" y="188.09" width="4.415" height="35.74" fill="#ffffff" stroke="#000" stroke-opacity="0.8" stroke-width="0.9"/>
<rect x="217.94" y="188.09" width="4.415" height="35.74" fill="#ffffff" stroke="#000" stroke-opacity="0.8" stroke-width="0.9"/>
<rect x="222.36" y="188.09" width="4.415" height="35.74" fill="#ffffff" stroke="#000" stroke-opacity="0.8" stroke-width="0.9"/>
<rect x="226.77" y="188.09" width="4.415" height="35.74" fill="#ffffff" stroke="#000" stroke-opacity="0.8" stroke-width="0.9"/>
<rect x="231.19" y="188.09" width="4.415" height="35.74" fill="#ffffff" stroke="#000" stroke-opacity="0.8" stroke-width="0.9"/>
<rect x="235.60" y="188.09" width="4.415" height="35.74" fill="#ffffff" stroke="#000" stroke-opacity="0.8" stroke-width="0.9"/>
<rect x="240.02" y="188.09" width="4.415" height="35.74" fill="#ffffff" stroke="#000" stroke-opacity="0.8" stroke-width="0.9"/>
<rect x="244.43" y="188.09" width="4.415" height="35.74" fill="#ffffff" stroke="#000" stroke-opacity="0.8" stroke-width="0.9"/>
<rect x="248.85" y="188.09" width="4.415" height="35.74" fill="#ffffff" stroke="#000" stroke-opacity="0.8" stroke-width="0.9"/>
<rect x="253.26" y="188.09" width="4.415" height="35.74" fill="#ffffff" stroke="#000" stroke-opacity="0.8" stroke-width="0.9"/>
<rect x="257.68" y="188.09" width="4.415" height="35.74" fill="#ffffff" stroke="#000" stroke-opacity="0.8" stroke-width="0.9"/>
<rect x="262.09" y="188.09" width="4.415" height="35.74" fill="#0878bc" stroke="#000" stroke-opacity="0.8" stroke-width="0.9"/>
<rect x="266.50" y="188.09" width="4.415" height="35.74" fill="#0878bc" stroke="#000" stroke-opacity="0.8" stroke-width="0.9"/>
<rect x="270.92" y="188.09" width="4.415" height="35.74" fill="#0878bc" stroke="#000" stroke-opacity="0.8" stroke-width="0.9"/>
<rect x="275.34" y="188.09" width="4.415" height="35.74" fill="#0878bc" stroke="#000" stroke-opacity="0.8" stroke-width="0.9"/>
<rect x="279.75" y="188.09" width="4.415" height="35.74" fill="#0878bc" stroke="#000" stroke-opacity="0.8" stroke-width="0.9"/>
<rect x="284.17" y="188.09" width="4.415" height="35.74" fill="#0878bc" stroke="#000" stroke-opacity="0.8" stroke-width="0.9"/>
<rect x="288.58" y="188.09" width="4.415" height="35.74" fill="#0878bc" stroke="#000" stroke-opacity="0.8" stroke-width="0.9"/>
<rect x="293.00" y="188.09" width="4.415" height="35.74" fill="#0878bc" stroke="#000" stroke-opacity="0.8" stroke-width="0.9"/>
<rect x="297.41" y="188.09" width="4.415" height="35.74" fill="#0878bc" stroke="#000" stroke-opacity="0.8" stroke-width="0.9"/>
<rect x="301.83" y="188.09" width="4.415" height="35.74" fill="#0878bc" stroke="#000" stroke-opacity="0.8" stroke-width="0.9"/>
<rect x="306.24" y="188.09" width="4.415" height="35.74" fill="#0878bc" stroke="#000" stroke-opacity="0.8" stroke-width="0.9"/>
<rect x="310.65" y="188.09" width="4.415" height="35.74" fill="#0878bc" stroke="#000" stroke-opacity="0.8" stroke-width="0.9"/>
<rect x="315.07" y="188.09" width="4.415" height="35.74" fill="#0878bc" stroke="#000" stroke-opacity="0.8" stroke-width="0.9"/>
<rect x="319.49" y="188.09" width="4.415" height="35.74" fill="#0878bc" stroke="#000" stroke-opacity="0.8" stroke-width="0.9"/>
<rect x="323.90" y="188.09" width="4.415" height="35.74" fill="#0878bc" stroke="#000" stroke-opacity="0.8" stroke-width="0.9"/>
<rect x="328.32" y="188.09" width="4.415" height="35.74" fill="#0878bc" stroke="#000" stroke-opacity="0.8" stroke-width="0.9"/>
<rect x="332.73" y="188.09" width="4.415" height="35.74" fill="#0878bc" stroke="#000" stroke-opacity="0.8" stroke-width="0.9"/>
<rect x="337.14" y="188.09" width="4.415" height="35.74" fill="#a6e48c" stroke="#000" stroke-opacity="0.8" stroke-width="0.9"/>
<rect x="341.56" y="188.09" width="4.415" height="35.74" fill="#0878bc" stroke="#000" stroke-opacity="0.8" stroke-width="0.9"/>
<rect x="345.98" y="188.09" width="4.415" height="35.74" fill="#0878bc" stroke="#000" stroke-opacity="0.8" stroke-width="0.9"/>
<rect x="350.39" y="188.09" width="4.415" height="35.74" fill="#0878bc" stroke="#000" stroke-opacity="0.8" stroke-width="0.9"/>
<rect x="354.81" y="188.09" width="4.415" height="35.74" fill="#0878bc" stroke="#000" stroke-opacity="0.8" stroke-width="0.9"/>
<rect x="359.22" y="188.09" width="4.415" height="35.74" fill="#0878bc" stroke="#000" stroke-opacity="0.8" stroke-width="0.9"/>
<rect x="363.63" y="188.09" width="4.415" height="35.74" fill="#0878bc" stroke="#000" stroke-opacity="0.8" stroke-width="0.9"/>
<rect x="368.05" y="188.09" width="4.415" height="35.74" fill="#ffffff" stroke="#000" stroke-opacity="0.8" stroke-width="0.9"/>
<rect x="372.47" y="188.09" width="4.415" height="35.74" fill="#a0d6ee" stroke="#000" stroke-opacity="0.8" stroke-width="0.9"/>
<rect x="376.88" y="188.09" width="4.415" height="35.74" fill="#a0d6ee" stroke="#000" stroke-opacity="0.8" stroke-width="0.9"/>
<rect x="381.30" y="188.09" width="4.415" height="35.74" fill="#0878bc" stroke="#000" stroke-opacity="0.8" stroke-width="0.9"/>
<rect x="385.71" y="188.09" width="4.415" height="35.74" fill="#0878bc" stroke="#000" stroke-opacity="0.8" stroke-width="0.9"/>
<rect x="390.12" y="188.09" width="4.415" height="35.74" fill="#0878bc" stroke="#000" stroke-opacity="0.8" stroke-width="0.9"/>
<rect x="394.54" y="188.09" width="4.415" height="35.74" fill="#a6e48c" stroke="#000" stroke-opacity="0.8" stroke-width="0.9"/>
<rect x="398.96" y="188.09" width="4.415" height="35.74" fill="#a6e48c" stroke="#000" stroke-opacity="0.8" stroke-width="0.9"/>
<rect x="403.37" y="188.09" width="4.415" height="35.74" fill="#0878bc" stroke="#000" stroke-opacity="0.8" stroke-width="0.9"/>
<rect x="407.79" y="188.09" width="4.415" height="35.74" fill="#a6e48c" stroke="#000" stroke-opacity="0.8" stroke-width="0.9"/>
<rect x="412.20" y="188.09" width="4.415" height="35.74" fill="#a6e48c" stroke="#000" stroke-opacity="0.8" stroke-width="0.9"/>
<rect x="416.62" y="188.09" width="4.415" height="35.74" fill="#ffffff" stroke="#000" stroke-opacity="0.8" stroke-width="0.9"/>
<rect x="421.03" y="188.09" width="4.415" height="35.74" fill="#0878bc" stroke="#000" stroke-opacity="0.8" stroke-width="0.9"/>
<rect x="425.44" y="188.09" width="4.415" height="35.74" fill="#ffffff" stroke="#000" stroke-opacity="0.8" stroke-width="0.9"/>
<rect x="429.86" y="188.09" width="4.415" height="35.74" fill="#a6e48c" stroke="#000" stroke-opacity="0.8" stroke-width="0.9"/>
<rect x="434.28" y="188.09" width="4.415" height="35.74" fill="#ffffff" stroke="#000" stroke-opacity="0.8" stroke-width="0.9"/>
<rect x="438.69" y="188.09" width="4.415" height="35.74" fill="#ffffff" stroke="#000" stroke-opacity="0.8" stroke-width="0.9"/>
<rect x="147.30" y="223.83" width="4.415" height="35.74" fill="#a6e48c" stroke="#000" stroke-opacity="0.8" stroke-width="0.9"/>
<rect x="151.72" y="223.83" width="4.415" height="35.74" fill="#ffffff" stroke="#000" stroke-opacity="0.8" stroke-width="0.9"/>
<rect x="156.13" y="223.83" width="4.415" height="35.74" fill="#ffffff" stroke="#000" stroke-opacity="0.8" stroke-width="0.9"/>
<rect x="160.55" y="223.83" width="4.415" height="35.74" fill="#ffffff" stroke="#000" stroke-opacity="0.8" stroke-width="0.9"/>
<rect x="164.96" y="223.83" width="4.415" height="35.74" fill="#ffffff" stroke="#000" stroke-opacity="0.8" stroke-width="0.9"/>
<rect x="169.38" y="223.83" width="4.415" height="35.74" fill="#ffffff" stroke="#000" stroke-opacity="0.8" stroke-width="0.9"/>
<rect x="173.79" y="223.83" width="4.415" height="35.74" fill="#ffffff" stroke="#000" stroke-opacity="0.8" stroke-width="0.9"/>
<rect x="178.21" y="223.83" width="4.415" height="35.74" fill="#ffffff" stroke="#000" stroke-opacity="0.8" stroke-width="0.9"/>
<rect x="182.62" y="223.83" width="4.415" height="35.74" fill="#ffffff" stroke="#000" stroke-opacity="0.8" stroke-width="0.9"/>
<rect x="187.04" y="223.83" width="4.415" height="35.74" fill="#ffffff" stroke="#000" stroke-opacity="0.8" stroke-width="0.9"/>
<rect x="191.45" y="223.83" width="4.415" height="35.74" fill="#ffffff" stroke="#000" stroke-opacity="0.8" stroke-width="0.9"/>
<rect x="195.87" y="223.83" width="4.415" height="35.74" fill="#ffffff" stroke="#000" stroke-opacity="0.8" stroke-width="0.9"/>
<rect x="200.28" y="223.83" width="4.415" height="35.74" fill="#ffffff" stroke="#000" stroke-opacity="0.8" stroke-width="0.9"/>
<rect x="204.70" y="223.83" width="4.415" height="35.74" fill="#ffffff" stroke="#000" stroke-opacity="0.8" stroke-width="0.9"/>
<rect x="209.11" y="223.83" width="4.415" height="35.74" fill="#ffffff" stroke="#000" stroke-opacity="0.8" stroke-width="0.9"/>
<rect x="213.53" y="223.83" width="4.415" height="35.74" fill="#ffffff" stroke="#000" stroke-opacity="0.8" stroke-width="0.9"/>
<rect x="217.94" y="223.83" width="4.415" height="35.74" fill="#ffffff" stroke="#000" stroke-opacity="0.8" stroke-width="0.9"/>
<rect x="222.36" y="223.83" width="4.415" height="35.74" fill="#ffffff" stroke="#000" stroke-opacity="0.8" stroke-width="0.9"/>
<rect x="226.77" y="223.83" width="4.415" height="35.74" fill="#ffffff" stroke="#000" stroke-opacity="0.8" stroke-width="0.9"/>
<rect x="231.19" y="223.83" width="4.415" height="35.74" fill="#ffffff" stroke="#000" stroke-opacity="0.8" stroke-width="0.9"/>
<rect x="235.60" y="223.83" width="4.415" height="35.74" fill="#ffffff" stroke="#000" stroke-opacity="0.8" stroke-width="0.9"/>
<rect x="240.02" y="223.83" width="4.415" height="35.74" fill="#ffffff" stroke="#000" stroke-opacity="0.8" stroke-width="0.9"/>
<rect x="244.43" y="223.83" width="4.415" height="35.74" fill="#a6e48c" stroke="#000" stroke-opacity="0.8" stroke-width="0.9"/>
<rect x="248.85" y="223.83" width="4.415" height="35.74" fill="#ffffff" stroke="#000" stroke-opacity="0.8" stroke-width="0.9"/>
<rect x="253.26" y="223.83" width="4.415" height="35.74" fill="#a0d6ee" stroke="#000" stroke-opacity="0.8" stroke-width="0.9"/>
<rect x="257.68" y="223.83" width="4.415" height="35.74" fill="#ffffff" stroke="#000" stroke-opacity="0.8" stroke-width="0.9"/>
<rect x="262.09" y="223.83" width="4.415" height="35.74" fill="#0878bc" stroke="#000" stroke-opacity="0.8" stroke-width="0.9"/>
<rect x="266.50" y="223.83" width="4.415" height="35.74" fill="#0878bc" stroke="#000" stroke-opacity="0.8" stroke-width="0.9"/>
<rect x="270.92" y="223.83" width="4.415" height="35.74" fill="#0878bc" stroke="#000" stroke-opacity="0.8" stroke-width="0.9"/>
<rect x="275.34" y="223.83" width="4.415" height="35.74" fill="#0878bc" stroke="#000" stroke-opacity="0.8" stroke-width="0.9"/>
<rect x="279.75" y="223.83" width="4.415" height="35.74" fill="#0878bc" stroke="#000" stroke-opacity="0.8" stroke-width="0.9"/>
<rect x="284.17" y="223.83" width="4.415" height="35.74" fill="#0878bc" stroke="#000" stroke-opacity="0.8" stroke-width="0.9"/>
<rect x="288.58" y="223.83" width="4.415" height="35.74" fill="#0878bc" stroke="#000" stroke-opacity="0.8" stroke-width="0.9"/>
<rect x="293.00" y="223.83" width="4.415" height="35.74" fill="#0878bc" stroke="#000" stroke-opacity="0.8" stroke-width="0.9"/>
<rect x="297.41" y="223.83" width="4.415" height="35.74" fill="#0878bc" stroke="#000" stroke-opacity="0.8" stroke-width="0.9"/>
<rect x="301.83" y="223.83" width="4.415" height="35.74" fill="#0878bc" stroke="#000" stroke-opacity="0.8" stroke-width="0.9"/>
<rect x="306.24" y="223.83" width="4.415" height="35.74" fill="#0878bc" stroke="#000" stroke-opacity="0.8" stroke-width="0.9"/>
<rect x="310.65" y="223.83" width="4.415" height="35.74" fill="#0878bc" stroke="#000" stroke-opacity="0.8" stroke-width="0.9"/>
<rect x="315.07" y="223.83" width="4.415" height="35.74" fill="#0878bc" stroke="#000" stroke-opacity="0.8" stroke-width="0.9"/>
<rect x="319.49" y="223.83" width="4.415" height="35.74" fill="#0878bc" stroke="#000" stroke-opacity="0.8" stroke-width="0.9"/>
<rect x="323.90" y="223.83" width="4.415" height="35.74" fill="#0878bc" stroke="#000" stroke-opacity="0.8" stroke-width="0.9"/>
<rect x="328.32" y="223.83" width="4.415" height="35.74" fill="#0878bc" stroke="#000" stroke-opacity="0.8" stroke-width="0.9"/>
<rect x="332.73" y="223.83" width="4.415" height="35.74" fill="#0878bc" stroke="#000" stroke-opacity="0.8" stroke-width="0.9"/>
<rect x="337.14" y="223.83" width="4.415" height="35.74" fill="#0878bc" stroke="#000" stroke-opacity="0.8" stroke-width="0.9"/>
<rect x="341.56" y="223.83" width="4.415" height="35.74" fill="#0878bc" stroke="#000" stroke-opacity="0.8" stroke-width="0.9"/>
<rect x="345.98" y="223.83" width="4.415" height="35.74" fill="#0878bc" stroke="#000" stroke-opacity="0.8" stroke-width="0.9"/>
<rect x="350.39" y="223.83" width="4.415" height="35.74" fill="#0878bc" stroke="#000" stroke-opacity="0.8" stroke-width="0.9"/>
<rect x="354.81" y="223.83" width="4.415" height="35.74" fill="#0878bc" stroke="#000" stroke-opacity="0.8" stroke-width="0.9"/>
<rect x="359.22" y="223.83" width="4.415" height="35.74" fill="#0878bc" stroke="#000" stroke-opacity="0.8" stroke-width="0.9"/>
<rect x="363.63" y="223.83" width="4.415" height="35.74" fill="#a6e48c" stroke="#000" stroke-opacity="0.8" stroke-width="0.9"/>
<rect x="368.05" y="223.83" width="4.415" height="35.74" fill="#a0d6ee" stroke="#000" stroke-opacity="0.8" stroke-width="0.9"/>
<rect x="372.47" y="223.83" width="4.415" height="35.74" fill="#0878bc" stroke="#000" stroke-opacity="0.8" stroke-width="0.9"/>
<rect x="376.88" y="223.83" width="4.415" height="35.74" fill="#a0d6ee" stroke="#000" stroke-opacity="0.8" stroke-width="0.9"/>
<rect x="381.30" y="223.83" width="4.415" height="35.74" fill="#a0d6ee" stroke="#000" stroke-opacity="0.8" stroke-width="0.9"/>
<rect x="385.71" y="223.83" width="4.415" height="35.74" fill="#a6e48c" stroke="#000" stroke-opacity="0.8" stroke-width="0.9"/>
<rect x="390.12" y="223.83" width="4.415" height="35.74" fill="#0878bc" stroke="#000" stroke-opacity="0.8" stroke-width="0.9"/>
<rect x="394.54" y="223.83" width="4.415" height="35.74" fill="#a6e48c" stroke="#000" stroke-opacity="0.8" stroke-width="0.9"/>
<rect x="398.96" y="223.83" width="4.415" height="35.74" fill="#a6e48c" stroke="#000" stroke-opacity="0.8" stroke-width="0.9"/>
<rect x="403.37" y="223.83" width="4.415" height="35.74" fill="#0878bc" stroke="#000" stroke-opacity="0.8" stroke-width="0.9"/>
<rect x="407.79" y="223.83" width="4.415" height="35.74" fill="#a6e48c" stroke="#000" stroke-opacity="0.8" stroke-width="0.9"/>
<rect x="412.20" y="223.83" width="4.415" height="35.74" fill="#0878bc" stroke="#000" stroke-opacity="0.8" stroke-width="0.9"/>
<rect x="416.62" y="223.83" width="4.415" height="35.74" fill="#0878bc" stroke="#000" stroke-opacity="0.8" stroke-width="0.9"/>
<rect x="421.03" y="223.83" width="4.415" height="35.74" fill="#ffffff" stroke="#000" stroke-opacity="0.8" stroke-width="0.9"/>
<rect x="425.44" y="223.83" width="4.415" height="35.74" fill="#a6e48c" stroke="#000" stroke-opacity="0.8" stroke-width="0.9"/>
<rect x="429.86" y="223.83" width="4.415" height="35.74" fill="#ffffff" stroke="#000" stroke-opacity="0.8" stroke-width="0.9"/>
<rect x="434.28" y="223.83" width="4.415" height="35.74" fill="#ffffff" stroke="#000" stroke-opacity="0.8" stroke-width="0.9"/>
<rect x="438.69" y="223.83" width="4.415" height="35.74" fill="#ffffff" stroke="#000" stroke-opacity="0.8" stroke-width="0.9"/>
<rect x="147.30" y="259.57" width="4.415" height="35.74" fill="#0878bc" stroke="#000" stroke-opacity="0.8" stroke-width="0.9"/>
<rect x="151.72" y="259.57" width="4.415" height="35.74" fill="#a0d6ee" stroke="#000" stroke-opacity="0.8" stroke-width="0.9"/>
<rect x="156.13" y="259.57" width="4.415" height="35.74" fill="#ffffff" stroke="#000" stroke-opacity="0.8" stroke-width="0.9"/>
<rect x="160.55" y="259.57" width="4.415" height="35.74" fill="#ffffff" stroke="#000" stroke-opacity="0.8" stroke-width="0.9"/>
<rect x="164.96" y="259.57" width="4.415" height="35.74" fill="#ffffff" stroke="#000" stroke-opacity="0.8" stroke-width="0.9"/>
<rect x="169.38" y="259.57" width="4.415" height="35.74" fill="#ffffff" stroke="#000" stroke-opacity="0.8" stroke-width="0.9"/>
<rect x="173.79" y="259.57" width="4.415" height="35.74" fill="#ffffff" stroke="#000" stroke-opacity="0.8" stroke-width="0.9"/>
<rect x="178.21" y="259.57" width="4.415" height="35.74" fill="#ffffff" stroke="#000" stroke-opacity="0.8" stroke-width="0.9"/>
<rect x="182.62" y="259.57" width="4.415" height="35.74" fill="#ffffff" stroke="#000" stroke-opacity="0.8" stroke-width="0.9"/>
<rect x="187.04" y="259.57" width="4.415" height="35.74" fill="#ffffff" stroke="#000" stroke-opacity="0.8" stroke-width="0.9"/>
<rect x="191.45" y="259.57" width="4.415" height="35.74" fill="#ffffff" stroke="#000" stroke-opacity="0.8" stroke-width="0.9"/>
<rect x="195.87" y="259.57" width="4.415" height="35.74" fill="#ffffff" stroke="#000" stroke-opacity="0.8" stroke-width="0.9"/>
<rect x="200.28" y="259.57" width="4.415" height="35.74" fill="#ffffff" stroke="#000" stroke-opacity="0.8" stroke-width="0.9"/>
<rect x="204.70" y="259.57" width="4.415" height="35.74" fill="#ffffff" stroke="#000" stroke-opacity="0.8" stroke-width="0.9"/>
<rect x="209.11" y="259.57" width="4.415" height="35.74" fill="#ffffff" stroke="#000" stroke-opacity="0.8" stroke-width="0.9"/>
<rect x="213.53" y="259.57" width="4.415" height="35.74" fill="#ffffff" stroke="#000" stroke-opacity="0.8" stroke-width="0.9"/>
<rect x="217.94" y="259.57" width="4.415" height="35.74" fill="#ffffff" stroke="#000" stroke-opacity="0.8" stroke-width="0.9"/>
<rect x="222.36" y="259.57" width="4.415" height="35.74" fill="#ffffff" stroke="#000" stroke-opacity="0.8" stroke-width="0.9"/>
<rect x="226.77" y="259.57" width="4.415" height="35.74" fill="#ffffff" stroke="#000" stroke-opacity="0.8" stroke-width="0.9"/>
<rect x="231.19" y="259.57" width="4.415" height="35.74" fill="#ffffff" stroke="#000" stroke-opacity="0.8" stroke-width="0.9"/>
<rect x="235.60" y="259.57" width="4.415" height="35.74" fill="#ffffff" stroke="#000" stroke-opacity="0.8" stroke-width="0.9"/>
<rect x="240.02" y="259.57" width="4.415" height="35.74" fill="#ffffff" stroke="#000" stroke-opacity="0.8" stroke-width="0.9"/>
<rect x="244.43" y="259.57" width="4.415" height="35.74" fill="#ffffff" stroke="#000" stroke-opacity="0.8" stroke-width="0.9"/>
<rect x="248.85" y="259.57" width="4.415" height="35.74" fill="#ffffff" stroke="#000" stroke-opacity="0.8" stroke-width="0.9"/>
<rect x="253.26" y="259.57" width="4.415" height="35.74" fill="#ffffff" stroke="#000" stroke-opacity="0.8" stroke-width="0.9"/>
<rect x="257.68" y="259.57" width="4.415" height="35.74" fill="#ffffff" stroke="#000" stroke-opacity="0.8" stroke-width="0.9"/>
<rect x="262.09" y="259.57" width="4.415" height="35.74" fill="#ffffff" stroke="#000" stroke-opacity="0.8" stroke-width="0.9"/>
<rect x="266.50" y="259.57" width="4.415" height="35.74" fill="#0878bc" stroke="#000" stroke-opacity="0.8" stroke-width="0.9"/>
<rect x="270.92" y="259.57" width="4.415" height="35.74" fill="#0878bc" stroke="#000" stroke-opacity="0.8" stroke-width="0.9"/>
<rect x="275.34" y="259.57" width="4.415" height="35.74" fill="#0878bc" stroke="#000" stroke-opacity="0.8" stroke-width="0.9"/>
<rect x="279.75" y="259.57" width="4.415" height="35.74" fill="#0878bc" stroke="#000" stroke-opacity="0.8" stroke-width="0.9"/>
<rect x="284.17" y="259.57" width="4.415" height="35.74" fill="#0878bc" stroke="#000" stroke-opacity="0.8" stroke-width="0.9"/>
<rect x="288.58" y="259.57" width="4.415" height="35.74" fill="#0878bc" stroke="#000" stroke-opacity="0.8" stroke-width="0.9"/>
<rect x="293.00" y="259.57" width="4.415" height="35.74" fill="#0878bc" stroke="#000" stroke-opacity="0.8" stroke-width="0.9"/>
<rect x="297.41" y="259.57" width="4.415" height="35.74" fill="#0878bc" stroke="#000" stroke-opacity="0.8" stroke-width="0.9"/>
<rect x="301.83" y="259.57" width="4.415" height="35.74" fill="#0878bc" stroke="#000" stroke-opacity="0.8" stroke-width="0.9"/>
<rect x="306.24" y="259.57" width="4.415" height="35.74" fill="#0878bc" stroke="#000" stroke-opacity="0.8" stroke-width="0.9"/>
<rect x="310.65" y="259.57" width="4.415" height="35.74" fill="#0878bc" stroke="#000" stroke-opacity="0.8" stroke-width="0.9"/>
<rect x="315.07" y="259.57" width="4.415" height="35.74" fill="#0878bc" stroke="#000" stroke-opacity="0.8" stroke-width="0.9"/>
<rect x="319.49" y="259.57" width="4.415" height="35.74" fill="#0878bc" stroke="#000" stroke-opacity="0.8" stroke-width="0.9"/>
<rect x="323.90" y="259.57" width="4.415" height="35.74" fill="#0878bc" stroke="#000" stroke-opacity="0.8" stroke-width="0.9"/>
<rect x="328.32" y="259.57" width="4.415" height="35.74" fill="#ffffff" stroke="#000" stroke-opacity="0.8" stroke-width="0.9"/>
<rect x="332.73" y="259.57" width="4.415" height="35.74" fill="#a6e48c" stroke="#000" stroke-opacity="0.8" stroke-width="0.9"/>
<rect x="337.14" y="259.57" width="4.415" height="35.74" fill="#0878bc" stroke="#000" stroke-opacity="0.8" stroke-width="0.9"/>
<rect x="341.56" y="259.57" width="4.415" height="35.74" fill="#0878bc" stroke="#000" stroke-opacity="0.8" stroke-width="0.9"/>
<rect x="345.98" y="259.57" width="4.415" height="35.74" fill="#0878bc" stroke="#000" stroke-opacity="0.8" stroke-width="0.9"/>
<rect x="350.39" y="259.57" width="4.415" height="35.74" fill="#0878bc" stroke="#000" stroke-opacity="0.8" stroke-width="0.9"/>
<rect x="354.81" y="259.57" width="4.415" height="35.74" fill="#0878bc" stroke="#000" stroke-opacity="0.8" stroke-width="0.9"/>
<rect x="359.22" y="259.57" width="4.415" height="35.74" fill="#0878bc" stroke="#000" stroke-opacity="0.8" stroke-width="0.9"/>
<rect x="363.63" y="259.57" width="4.415" height="35.74" fill="#0878bc" stroke="#000" stroke-opacity="0.8" stroke-width="0.9"/>
<rect x="368.05" y="259.57" width="4.415" height="35.74" fill="#ffffff" stroke="#000" stroke-opacity="0.8" stroke-width="0.9"/>
<rect x="372.47" y="259.57" width="4.415" height="35.74" fill="#a0d6ee" stroke="#000" stroke-opacity="0.8" stroke-width="0.9"/>
<rect x="376.88" y="259.57" width="4.415" height="35.74" fill="#a0d6ee" stroke="#000" stroke-opacity="0.8" stroke-width="0.9"/>
<rect x="381.30" y="259.57" width="4.415" height="35.74" fill="#a0d6ee" stroke="#000" stroke-opacity="0.8" stroke-width="0.9"/>
<rect x="385.71" y="259.57" width="4.415" height="35.74" fill="#a0d6ee" stroke="#000" stroke-opacity="0.8" stroke-width="0.9"/>
<rect x="390.12" y="259.57" width="4.415" height="35.74" fill="#a0d6ee" stroke="#000" stroke-opacity="0.8" stroke-width="0.9"/>
<rect x="394.54" y="259.57" width="4.415" height="35.74" fill="#ffffff" stroke="#000" stroke-opacity="0.8" stroke-width="0.9"/>
<rect x="398.96" y="259.57" width="4.415" height="35.74" fill="#0878bc" stroke="#000" stroke-opacity="0.8" stroke-width="0.9"/>
<rect x="403.37" y="259.57" width="4.415" height="35.74" fill="#a0d6ee" stroke="#000" stroke-opacity="0.8" stroke-width="0.9"/>
<rect x="407.79" y="259.57" width="4.415" height="35.74" fill="#0878bc" stroke="#000" stroke-opacity="0.8" stroke-width="0.9"/>
<rect x="412.20" y="259.57" width="4.415" height="35.74" fill="#ffffff" stroke="#000" stroke-opacity="0.8" stroke-width="0.9"/>
<rect x="416.62" y="259.57" width="4.415" height="35.74" fill="#0878bc" stroke="#000" stroke-opacity="0.8" stroke-width="0.9"/>
<rect x="421.03" y="259.57" width="4.415" height="35.74" fill="#0878bc" stroke="#000" stroke-opacity="0.8" stroke-width="0.9"/>
<rect x="425.44" y="259.57" width="4.415" height="35.74" fill="#a6e48c" stroke="#000" stroke-opacity="0.8" stroke-width="0.9"/>
<rect x="429.86" y="259.57" width="4.415" height="35.74" fill="#a6e48c" stroke="#000" stroke-opacity="0.8" stroke-width="0.9"/>
<rect x="434.28" y="259.57" width="4.415" height="35.74" fill="#ffffff" stroke="#000" stroke-opacity="0.8" stroke-width="0.9"/>
<rect x="438.69" y="259.57" width="4.415" height="35.74" fill="#ffffff" stroke="#000" stroke-opacity="0.8" stroke-width="0.9"/>
<rect x="147.30" y="295.31" width="4.415" height="35.74" fill="#a6e48c" stroke="#000" stroke-opacity="0.8" stroke-width="0.9"/>
<rect x="151.72" y="295.31" width="4.415" height="35.74" fill="#a0d6ee" stroke="#000" stroke-opacity="0.8" stroke-width="0.9"/>
<rect x="156.13" y="295.31" width="4.415" height="35.74" fill="#ffffff" stroke="#000" stroke-opacity="0.8" stroke-width="0.9"/>
<rect x="160.55" y="295.31" width="4.415" height="35.74" fill="#ffffff" stroke="#000" stroke-opacity="0.8" stroke-width="0.9"/>
<rect x="164.96" y="295.31" width="4.415" height="35.74" fill="#ffffff" stroke="#000" stroke-opacity="0.8" stroke-width="0.9"/>
<rect x="169.38" y="295.31" width="4.415" height="35.74" fill="#ffffff" stroke="#000" stroke-opacity="0.8" stroke-width="0.9"/>
<rect x="173.79" y="295.31" width="4.415" height="35.74" fill="#ffffff" stroke="#000" stroke-opacity="0.8" stroke-width="0.9"/>
<rect x="178.21" y="295.31" width="4.415" height="35.74" fill="#ffffff" stroke="#000" stroke-opacity="0.8" stroke-width="0.9"/>
<rect x="182.62" y="295.31" width="4.415" height="35.74" fill="#ffffff" stroke="#000" stroke-opacity="0.8" stroke-width="0.9"/>
<rect x="187.04" y="295.31" width="4.415" height="35.74" fill="#ffffff" stroke="#000" stroke-opacity="0.8" stroke-width="0.9"/>
<rect x="191.45" y="295.31" width="4.415" height="35.74" fill="#ffffff" stroke="#000" stroke-opacity="0.8" stroke-width="0.9"/>
<rect x="195.87" y="295.31" width="4.415" height="35.74" fill="#ffffff" stroke="#000" stroke-opacity="0.8" stroke-width="0.9"/>
<rect x="200.28" y="295.31" width="4.415" height="35.74" fill="#ffffff" stroke="#000" stroke-opacity="0.8" stroke-width="0.9"/>
<rect x="204.70" y="295.31" width="4.415" height="35.74" fill="#ffffff" stroke="#000" stroke-opacity="0.8" stroke-width="0.9"/>
<rect x="209.11" y="295.31" width="4.415" height="35.74" fill="#ffffff" stroke="#000" stroke-opacity="0.8" stroke-width="0.9"/>
<rect x="213.53" y="295.31" width="4.415" height="35.74" fill="#ffffff" stroke="#000" stroke-opacity="0.8" stroke-width="0.9"/>
<rect x="217.94" y="295.31" width="4.415" height="35.74" fill="#ffffff" stroke="#000" stroke-opacity="0.8" stroke-width="0.9"/>
<rect x="222.36" y="295.31" width="4.415" height="35.74" fill="#ffffff" stroke="#000" stroke-opacity="0.8" stroke-width="0.9"/>
<rect x="226.77" y="295.31" width="4.415" height="35.74" fill="#ffffff" stroke="#000" stroke-opacity="0.8" stroke-width="0.9"/>
<rect x="231.19" y="295.31" width="4.415" height="35.74" fill="#ffffff" stroke="#000" stroke-opacity="0.8" stroke-width="0.9"/>
<rect x="235.60" y="295.31" width="4.415" height="35.74" fill="#ffffff" stroke="#000" stroke-opacity="0.8" stroke-width="0.9"/>
<rect x="240.02" y="295.31" width="4.415" height="35.74" fill="#ffffff" stroke="#000" stroke-opacity="0.8" stroke-width="0.9"/>
<rect x="244.43" y="295.31" width="4.415" height="35.74" fill="#ffffff" stroke="#000" stroke-opacity="0.8" stroke-width="0.9"/>
<rect x="248.85" y="295.31" width="4.415" height="35.74" fill="#ffffff" stroke="#000" stroke-opacity="0.8" stroke-width="0.9"/>
<rect x="253.26" y="295.31" width="4.415" height="35.74" fill="#ffffff" stroke="#000" stroke-opacity="0.8" stroke-width="0.9"/>
<rect x="257.68" y="295.31" width="4.415" height="35.74" fill="#a0d6ee" stroke="#000" stroke-opacity="0.8" stroke-width="0.9"/>
<rect x="262.09" y="295.31" width="4.415" height="35.74" fill="#a0d6ee" stroke="#000" stroke-opacity="0.8" stroke-width="0.9"/>
<rect x="266.50" y="295.31" width="4.415" height="35.74" fill="#0878bc" stroke="#000" stroke-opacity="0.8" stroke-width="0.9"/>
<rect x="270.92" y="295.31" width="4.415" height="35.74" fill="#0878bc" stroke="#000" stroke-opacity="0.8" stroke-width="0.9"/>
<rect x="275.34" y="295.31" width="4.415" height="35.74" fill="#0878bc" stroke="#000" stroke-opacity="0.8" stroke-width="0.9"/>
<rect x="279.75" y="295.31" width="4.415" height="35.74" fill="#0878bc" stroke="#000" stroke-opacity="0.8" stroke-width="0.9"/>
<rect x="284.17" y="295.31" width="4.415" height="35.74" fill="#0878bc" stroke="#000" stroke-opacity="0.8" stroke-width="0.9"/>
<rect x="288.58" y="295.31" width="4.415" height="35.74" fill="#0878bc" stroke="#000" stroke-opacity="0.8" stroke-width="0.9"/>
<rect x="293.00" y="295.31" width="4.415" height="35.74" fill="#0878bc" stroke="#000" stroke-opacity="0.8" stroke-width="0.9"/>
<rect x="297.41" y="295.31" width="4.415" height="35.74" fill="#0878bc" stroke="#000" stroke-opacity="0.8" stroke-width="0.9"/>
<rect x="301.83" y="295.31" width="4.415" height="35.74" fill="#0878bc" stroke="#000" stroke-opacity="0.8" stroke-width="0.9"/>
<rect x="306.24" y="295.31" width="4.415" height="35.74" fill="#0878bc" stroke="#000" stroke-opacity="0.8" stroke-width="0.9"/>
<rect x="310.65" y="295.31" width="4.415" height="35.74" fill="#0878bc" stroke="#000" stroke-opacity="0.8" stroke-width="0.9"/>
<rect x="315.07" y="295.31" width="4.415" height="35.74" fill="#0878bc" stroke="#000" stroke-opacity="0.8" stroke-width="0.9"/>
<rect x="319.49" y="295.31" width="4.415" height="35.74" fill="#0878bc" stroke="#000" stroke-opacity="0.8" stroke-width="0.9"/>
<rect x="323.90" y="295.31" width="4.415" height="35.74" fill="#0878bc" stroke="#000" stroke-opacity="0.8" stroke-width="0.9"/>
<rect x="328.32" y="295.31" width="4.415" height="35.74" fill="#0878bc" stroke="#000" stroke-opacity="0.8" stroke-width="0.9"/>
<rect x="332.73" y="295.31" width="4.415" height="35.74" fill="#0878bc" stroke="#000" stroke-opacity="0.8" stroke-width="0.9"/>
<rect x="337.14" y="295.31" width="4.415" height="35.74" fill="#a0d6ee" stroke="#000" stroke-opacity="0.8" stroke-width="0.9"/>
<rect x="341.56" y="295.31" width="4.415" height="35.74" fill="#a0d6ee" stroke="#000" stroke-opacity="0.8" stroke-width="0.9"/>
<rect x="345.98" y="295.31" width="4.415" height="35.74" fill="#0878bc" stroke="#000" stroke-opacity="0.8" stroke-width="0.9"/>
<rect x="350.39" y="295.31" width="4.415" height="35.74" fill="#0878bc" stroke="#000" stroke-opacity="0.8" stroke-width="0.9"/>
<rect x="354.81" y="295.31" width="4.415" height="35.74" fill="#0878bc" stroke="#000" stroke-opacity="0.8" stroke-width="0.9"/>
<rect x="359.22" y="295.31" width="4.415" height="35.74" fill="#ffffff" stroke="#000" stroke-opacity="0.8" stroke-width="0.9"/>
<rect x="363.63" y="295.31" width="4.415" height="35.74" fill="#ffffff" stroke="#000" stroke-opacity="0.8" stroke-width="0.9"/>
<rect x="368.05" y="295.31" width="4.415" height="35.74" fill="#a6e48c" stroke="#000" stroke-opacity="0.8" stroke-width="0.9"/>
<rect x="372.47" y="295.31" width="4.415" height="35.74" fill="#a0d6ee" stroke="#000" stroke-opacity="0.8" stroke-width="0.9"/>
<rect x="376.88" y="295.31" width="4.415" height="35.74" fill="#a0d6ee" stroke="#000" stroke-opacity="0.8" stroke-width="0.9"/>
<rect x="381.30" y="295.31" width="4.415" height="35.74" fill="#a0d6ee" stroke="#000" stroke-opacity="0.8" stroke-width="0.9"/>
<rect x="385.71" y="295.31" width="4.415" height="35.74" fill="#a6e48c" stroke="#000" stroke-opacity="0.8" stroke-width="0.9"/>
<rect x="390.12" y="295.31" width="4.415" height="35.74" fill="#a0d6ee" stroke="#000" stroke-opacity="0.8" stroke-width="0.9"/>
<rect x="394.54" y="295.31" width="4.415" height="35.74" fill="#0878bc" stroke="#000" stroke-opacity="0.8" stroke-width="0.9"/>
<rect x="398.96" y="295.31" width="4.415" height="35.74" fill="#a6e48c" stroke="#000" stroke-opacity="0.8" stroke-width="0.9"/>
<rect x="403.37" y="295.31" width="4.415" height="35.74" fill="#0878bc" stroke="#000" stroke-opacity="0.8" stroke-width="0.9"/>
<rect x="407.79" y="295.31" width="4.415" height="35.74" fill="#0878bc" stroke="#000" stroke-opacity="0.8" stroke-width="0.9"/>
<rect x="412.20" y="295.31" width="4.415" height="35.74" fill="#0878bc" stroke="#000" stroke-opacity="0.8" stroke-width="0.9"/>
<rect x="416.62" y="295.31" width="4.415" height="35.74" fill="#ffffff" stroke="#000" stroke-opacity="0.8" stroke-width="0.9"/>
<rect x="421.03" y="295.31" width="4.415" height="35.74" fill="#ffffff" stroke="#000" stroke-opacity="0.8" stroke-width="0.9"/>
<rect x="425.44" y="295.31" width="4.415" height="35.74" fill="#a6e48c" stroke="#000" stroke-opacity="0.8" stroke-width="0.9"/>
<rect x="429.86" y="295.31" width="4.415" height="35.74" fill="#a6e48c" stroke="#000" stroke-opacity="0.8" stroke-width="0.9"/>
<rect x="434.28" y="295.31" width="4.415" height="35.74" fill="#ffffff" stroke="#000" stroke-opacity="0.8" stroke-width="0.9"/>
<rect x="438.69" y="295.31" width="4.415" height="35.74" fill="#a6e48c" stroke="#000" stroke-opacity="0.8" stroke-width="0.9"/>
<rect x="147.30" y="331.06" width="4.415" height="35.74" fill="#a6e48c" stroke="#000" stroke-opacity="0.8" stroke-width="0.9"/>
<rect x="151.72" y="331.06" width="4.415" height="35.74" fill="#ffffff" stroke="#000" stroke-opacity="0.8" stroke-width="0.9"/>
<rect x="156.13" y="331.06" width="4.415" height="35.74" fill="#ffffff" stroke="#000" stroke-opacity="0.8" stroke-width="0.9"/>
<rect x="160.55" y="331.06" width="4.415" height="35.74" fill="#ffffff" stroke="#000" stroke-opacity="0.8" stroke-width="0.9"/>
<rect x="164.96" y="331.06" width="4.415" height="35.74" fill="#ffffff" stroke="#000" stroke-opacity="0.8" stroke-width="0.9"/>
<rect x="169.38" y="331.06" width="4.415" height="35.74" fill="#ffffff" stroke="#000" stroke-opacity="0.8" stroke-width="0.9"/>
<rect x="173.79" y="331.06" width="4.415" height="35.74" fill="#ffffff" stroke="#000" stroke-opacity="0.8" stroke-width="0.9"/>
<rect x="178.21" y="331.06" width="4.415" height="35.74" fill="#ffffff" stroke="#000" stroke-opacity="0.8" stroke-width="0.9"/>
<rect x="182.62" y="331.06" width="4.415" height="35.74" fill="#ffffff" stroke="#000" stroke-opacity="0.8" stroke-width="0.9"/>
<rect x="187.04" y="331.06" width="4.415" height="35.74" fill="#ffffff" stroke="#000" stroke-opacity="0.8" stroke-width="0.9"/>
<rect x="191.45" y="331.06" width="4.415" height="35.74" fill="#ffffff" stroke="#000" stroke-opacity="0.8" stroke-width="0.9"/>
<rect x="195.87" y="331.06" width="4.415" height="35.74" fill="#ffffff" stroke="#000" stroke-opacity="0.8" stroke-width="0.9"/>
<rect x="200.28" y="331.06" width="4.415" height="35.74" fill="#ffffff" stroke="#000" stroke-opacity="0.8" stroke-width="0.9"/>
<rect x="204.70" y="331.06" width="4.415" height="35.74" fill="#ffffff" stroke="#000" stroke-opacity="0.8" stroke-width="0.9"/>
<rect x="209.11" y="331.06" width="4.415" height="35.74" fill="#ffffff" stroke="#000" stroke-opacity="0.8" stroke-width="0.9"/>
<rect x="213.53" y="331.06" width="4.415" height="35.74" fill="#ffffff" stroke="#000" stroke-opacity="0.8" stroke-width="0.9"/>
<rect x="217.94" y="331.06" width="4.415" height="35.74" fill="#ffffff" stroke="#000" stroke-opacity="0.8" stroke-width="0.9"/>
<rect x="222.36" y="331.06" width="4.415" height="35.74" fill="#ffffff" stroke="#000" stroke-opacity="0.8" stroke-width="0.9"/>
<rect x="226.77" y="331.06" width="4.415" height="35.74" fill="#ffffff" stroke="#000" stroke-opacity="0.8" stroke-width="0.9"/>
<rect x="231.19" y="331.06" width="4.415" height="35.74" fill="#ffffff" stroke="#000" stroke-opacity="0.8" stroke-width="0.9"/>
<rect x="235.60" y="331.06" width="4.415" height="35.74" fill="#ffffff" stroke="#000" stroke-opacity="0.8" stroke-width="0.9"/>
<rect x="240.02" y="331.06" width="4.415" height="35.74" fill="#ffffff" stroke="#000" stroke-opacity="0.8" stroke-width="0.9"/>
<rect x="244.43" y="331.06" width="4.415" height="35.74" fill="#ffffff" stroke="#000" stroke-opacity="0.8" stroke-width="0.9"/>
<rect x="248.85" y="331.06" width="4.415" height="35.74" fill="#ffffff" stroke="#000" stroke-opacity="0.8" stroke-width="0.9"/>
<rect x="253.26" y="331.06" width="4.415" height="35.74" fill="#ffffff" stroke="#000" stroke-opacity="0.8" stroke-width="0.9"/>
<rect x="257.68" y="331.06" width="4.415" height="35.74" fill="#ffffff" stroke="#000" stroke-opacity="0.8" stroke-width="0.9"/>
<rect x="262.09" y="331.06" width="4.415" height="35.74" fill="#a6e48c" stroke="#000" stroke-opacity="0.8" stroke-width="0.9"/>
<rect x="266.50" y="331.06" width="4.415" height="35.74" fill="#0878bc" stroke="#000" stroke-opacity="0.8" stroke-width="0.9"/>
<rect x="270.92" y="331.06" width="4.415" height="35.74" fill="#0878bc" stroke="#000" stroke-opacity="0.8" stroke-width="0.9"/>
<rect x="275.34" y="331.06" width="4.415" height="35.74" fill="#0878bc" stroke="#000" stroke-opacity="0.8" stroke-width="0.9"/>
<rect x="279.75" y="331.06" width="4.415" height="35.74" fill="#0878bc" stroke="#000" stroke-opacity="0.8" stroke-width="0.9"/>
<rect x="284.17" y="331.06" width="4.415" height="35.74" fill="#0878bc" stroke="#000" stroke-opacity="0.8" stroke-width="0.9"/>
<rect x="288.58" y="331.06" width="4.415" height="35.74" fill="#0878bc" stroke="#000" stroke-opacity="0.8" stroke-width="0.9"/>
<rect x="293.00" y="331.06" width="4.415" height="35.74" fill="#0878bc" stroke="#000" stroke-opacity="0.8" stroke-width="0.9"/>
<rect x="297.41" y="331.06" width="4.415" height="35.74" fill="#0878bc" stroke="#000" stroke-opacity="0.8" stroke-width="0.9"/>
<rect x="301.83" y="331.06" width="4.415" height="35.74" fill="#0878bc" stroke="#000" stroke-opacity="0.8" stroke-width="0.9"/>
<rect x="306.24" y="331.06" width="4.415" height="35.74" fill="#0878bc" stroke="#000" stroke-opacity="0.8" stroke-width="0.9"/>
<rect x="310.65" y="331.06" width="4.415" height="35.74" fill="#0878bc" stroke="#000" stroke-opacity="0.8" stroke-width="0.9"/>
<rect x="315.07" y="331.06" width="4.415" height="35.74" fill="#0878bc" stroke="#000" stroke-opacity="0.8" stroke-width="0.9"/>
<rect x="319.49" y="331.06" width="4.415" height="35.74" fill="#0878bc" stroke="#000" stroke-opacity="0.8" stroke-width="0.9"/>
<rect x="323.90" y="331.06" width="4.415" height="35.74" fill="#0878bc" stroke="#000" stroke-opacity="0.8" stroke-width="0.9"/>
<rect x="328.32" y="331.06" width="4.415" height="35.74" fill="#0878bc" stroke="#000" stroke-opacity="0.8" stroke-width="0.9"/>
<rect x="332.73" y="331.06" width="4.415" height="35.74" fill="#0878bc" stroke="#000" stroke-opacity="0.8" stroke-width="0.9"/>
<rect x="337.14" y="331.06" width="4.415" height="35.74" fill="#0878bc" stroke="#000" stroke-opacity="0.8" stroke-width="0.9"/>
<rect x="341.56" y="331.06" width="4.415" height="35.74" fill="#0878bc" stroke="#000" stroke-opacity="0.8" stroke-width="0.9"/>
<rect x="345.98" y="331.06" width="4.415" height="35.74" fill="#ffffff" stroke="#000" stroke-opacity="0.8" stroke-width="0.9"/>
<rect x="350.39" y="331.06" width="4.415" height="35.74" fill="#ffffff" stroke="#000" stroke-opacity="0.8" stroke-width="0.9"/>
<rect x="354.81" y="331.06" width="4.415" height="35.74" fill="#ffffff" stroke="#000" stroke-opacity="0.8" stroke-width="0.9"/>
<rect x="359.22" y="331.06" width="4.415" height="35.74" fill="#0878bc" stroke="#000" stroke-opacity="0.8" stroke-width="0.9"/>
<rect x="363.63" y="331.06" width="4.415" height="35.74" fill="#0878bc" stroke="#000" stroke-opacity="0.8" stroke-width="0.9"/>
<rect x="368.05" y="331.06" width="4.415" height="35.74" fill="#a6e48c" stroke="#000" stroke-opacity="0.8" stroke-width="0.9"/>
<rect x="372.47" y="331.06" width="4.415" height="35.74" fill="#a0d6ee" stroke="#000" stroke-opacity="0.8" stroke-width="0.9"/>
<rect x="376.88" y="331.06" width="4.415" height="35.74" fill="#0878bc" stroke="#000" stroke-opacity="0.8" stroke-width="0.9"/>
<rect x="381.30" y="331.06" width="4.415" height="35.74" fill="#a0d6ee" stroke="#000" stroke-opacity="0.8" stroke-width="0.9"/>
<rect x="385.71" y="331.06" width="4.415" height="35.74" fill="#a6e48c" stroke="#000" stroke-opacity="0.8" stroke-width="0.9"/>
<rect x="390.12" y="331.06" width="4.415" height="35.74" fill="#ffffff" stroke="#000" stroke-opacity="0.8" stroke-width="0.9"/>
<rect x="394.54" y="331.06" width="4.415" height="35.74" fill="#ffffff" stroke="#000" stroke-opacity="0.8" stroke-width="0.9"/>
<rect x="398.96" y="331.06" width="4.415" height="35.74" fill="#a0d6ee" stroke="#000" stroke-opacity="0.8" stroke-width="0.9"/>
<rect x="403.37" y="331.06" width="4.415" height="35.74" fill="#a0d6ee" stroke="#000" stroke-opacity="0.8" stroke-width="0.9"/>
<rect x="407.79" y="331.06" width="4.415" height="35.74" fill="#a6e48c" stroke="#000" stroke-opacity="0.8" stroke-width="0.9"/>
<rect x="412.20" y="331.06" width="4.415" height="35.74" fill="#ffffff" stroke="#000" stroke-opacity="0.8" stroke-width="0.9"/>
<rect x="416.62" y="331.06" width="4.415" height="35.74" fill="#a6e48c" stroke="#000" stroke-opacity="0.8" stroke-width="0.9"/>
<rect x="421.03" y="331.06" width="4.415" height="35.74" fill="#ffffff" stroke="#000" stroke-opacity="0.8" stroke-width="0.9"/>
<rect x="425.44" y="331.06" width="4.415" height="35.74" fill="#ffffff" stroke="#000" stroke-opacity="0.8" stroke-width="0.9"/>
<rect x="429.86" y="331.06" width="4.415" height="35.74" fill="#ffffff" stroke="#000" stroke-opacity="0.8" stroke-width="0.9"/>
<rect x="434.28" y="331.06" width="4.415" height="35.74" fill="#ffffff" stroke="#000" stroke-opacity="0.8" stroke-width="0.9"/>
<rect x="438.69" y="331.06" width="4.415" height="35.74" fill="#ffffff" stroke="#000" stroke-opacity="0.8" stroke-width="0.9"/>
<rect x="147.3" y="116.6" width="297.40" height="250.20" fill="none" stroke="#000" stroke-width="1.2"/>
<text x="449.1" y="134.67" font-size="5.84">arthrobacter_cupressi</text>
<text x="449.1" y="170.41" font-size="5.84">Arthrobacter</text>
<text x="449.1" y="206.16" font-size="5.84">arthrobacter_phenanthrenivorans</text>
<text x="449.1" y="241.90" font-size="5.84">arthrobacter_globiformis</text>
<text x="449.1" y="277.64" font-size="5.84">arthrobacter_alpinus</text>
<text x="449.1" y="313.39" font-size="5.84">arthrobacter_aurescens</text>
<text x="449.1" y="349.13" font-size="5.84">arthrobacter_woluwensis</text>
<text transform="translate(147.99 369.2) rotate(90)" font-size="5.78">Coccus - clusters or groups predominate</text>
<text transform="translate(151.73 369.2) rotate(90)" font-size="5.78">Raffinose</text>
<text transform="translate(156.82 369.2) rotate(90)" font-size="5.78">Growth on MacConkey agar</text>
<text transform="translate(161.24 369.2) rotate(90)" font-size="5.78">Voges Proskauer</text>
<text transform="translate(165.65 369.2) rotate(90)" font-size="5.78">Coccus - pairs or chains predominate</text>
<text transform="translate(170.07 369.2) rotate(90)" font-size="5.78">Nitrite to gas</text>
<text transform="translate(173.80 369.2) rotate(90)" font-size="5.78">Coccus</text>
<text transform="translate(178.90 369.2) rotate(90)" font-size="5.78">Methyl red</text>
<text transform="translate(183.31 369.2) rotate(90)" font-size="5.78">Gram negative</text>
<text transform="translate(187.05 369.2) rotate(90)" font-size="5.78">D-Sorbitol</text>
<text transform="translate(192.14 369.2) rotate(90)" font-size="5.78">Hydrogen sulfide</text>
<text transform="translate(196.56 369.2) rotate(90)" font-size="5.78">Beta hemolysis</text>
<text transform="translate(200.97 369.2) rotate(90)" font-size="5.78">Capnophilic</text>
<text transform="translate(205.39 369.2) rotate(90)" font-size="5.78">Casein hydrolysis</text>
<text transform="translate(209.80 369.2) rotate(90)" font-size="5.78">Ornithine decarboxylase</text>
<text transform="translate(214.22 369.2) rotate(90)" font-size="5.78">Colistin-Polymyxin susceptible</text>
<text transform="translate(217.95 369.2) rotate(90)" font-size="5.78">Anaerobe</text>
<text transform="translate(223.05 369.2) rotate(90)" font-size="5.78">Spore formation</text>
<text transform="translate(226.78 369.2) rotate(90)" font-size="5.78">Malonate</text>
<text transform="translate(231.88 369.2) rotate(90)" font-size="5.78">Gas from glucose</text>
<text transform="translate(235.61 369.2) rotate(90)" font-size="5.78">Indole</text>
<text transform="translate(240.71 369.2) rotate(90)" font-size="5.78">Arginine dihydrolase</text>
<text transform="translate(244.44 369.2) rotate(90)" font-size="5.78">Growth at 42°C</text>
<text transform="translate(248.86 369.2) rotate(90)" font-size="5.78">Motile</text>
<text transform="translate(253.95 369.2) rotate(90)" font-size="5.78">Lysine decarboxylase</text>
<text transform="translate(257.69 369.2) rotate(90)" font-size="5.78">DNase</text>
<text transform="translate(262.10 369.2) rotate(90)" font-size="5.78">Lactose</text>
<text transform="translate(266.52 369.2) rotate(90)" font-size="5.78">Growth in 6.5% NaCl</text>
<text transform="translate(271.61 369.2) rotate(90)" font-size="5.78">Alkaline phosphatase</text>
<text transform="translate(276.03 369.2) rotate(90)" font-size="5.78">Starch hydrolysis</text>
<text transform="translate(279.76 369.2) rotate(90)" font-size="5.78">Trehalose</text>
<text transform="translate(284.18 369.2) rotate(90)" font-size="5.78">Catalase</text>
<text transform="translate(289.27 369.2) rotate(90)" font-size="5.78">Urea hydrolysis</text>
<text transform="translate(293.69 369.2) rotate(90)" font-size="5.78">Growth on ordinary blood agar</text>
<text transform="translate(297.42 369.2) rotate(90)" font-size="5.78">Bacillus or coccobacillus</text>
<text transform="translate(302.52 369.2) rotate(90)" font-size="5.78">Esculin hydrolysis</text>
<text transform="translate(306.93 369.2) rotate(90)" font-size="5.78">Bile-susceptible</text>
<text transform="translate(311.35 369.2) rotate(90)" font-size="5.78">Gram positive</text>
<text transform="translate(315.08 369.2) rotate(90)" font-size="5.78">D-Mannose</text>
<text transform="translate(320.18 369.2) rotate(90)" font-size="5.78">ONPG (beta galactosidase)</text>
<text transform="translate(324.59 369.2) rotate(90)" font-size="5.78">Coagulase production</text>
<text transform="translate(328.33 369.2) rotate(90)" font-size="5.78">Cellobiose</text>
<text transform="translate(332.74 369.2) rotate(90)" font-size="5.78">Glucose oxidizer</text>
<text transform="translate(337.84 369.2) rotate(90)" font-size="5.78">Gelatin hydrolysis</text>
<text transform="translate(341.57 369.2) rotate(90)" font-size="5.78">Sucrose</text>
<text transform="translate(345.99 369.2) rotate(90)" font-size="5.78">Melibiose</text>
<text transform="translate(350.40 369.2) rotate(90)" font-size="5.78">L-Arabinose</text>
<text transform="translate(354.82 369.2) rotate(90)" font-size="5.78">L-Rhamnose</text>
<text transform="translate(359.23 369.2) rotate(90)" font-size="5.78">Aerobe</text>
<text transform="translate(363.65 369.2) rotate(90)" font-size="5.78">Glucose fermenter</text>
<text transform="translate(368.74 369.2) rotate(90)" font-size="5.78">Lipase</text>
<text transform="translate(372.48 369.2) rotate(90)" font-size="5.78">Mucate utilization</text>
<text transform="translate(376.89 369.2) rotate(90)" font-size="5.78">Growth in KCN</text>
<text transform="translate(381.31 369.2) rotate(90)" font-size="5.78">D-Mannitol</text>
<text transform="translate(385.72 369.2) rotate(90)" font-size="5.78">Acetate utilization</text>
<text transform="translate(390.14 369.2) rotate(90)" font-size="5.78">Citrate</text>
<text transform="translate(394.55 369.2) rotate(90)" font-size="5.78">Oxidase</text>
<text transform="translate(399.65 369.2) rotate(90)" font-size="5.78">D-Xylose</text>
<text transform="translate(404.06 369.2) rotate(90)" font-size="5.78">Glycerol</text>
<text transform="translate(408.48 369.2) rotate(90)" font-size="5.78">Yellow pigment</text>
<text transform="translate(412.89 369.2) rotate(90)" font-size="5.78">myo-Inositol</text>
<text transform="translate(416.63 369.2) rotate(90)" font-size="5.78">Salicin</text>
<text transform="translate(421.04 369.2) rotate(90)" font-size="5.78">Nitrate to nitrite</text>
<text transform="translate(425.46 369.2) rotate(90)" font-size="5.78">Maltose</text>
<text transform="translate(429.87 369.2) rotate(90)" font-size="5.78">Facultative</text>
<text transform="translate(434.97 369.2) rotate(90)" font-size="5.78">Pyrrolidonyl-beta-naphthylamide</text>
<text transform="translate(438.70 369.2) rotate(90)" font-size="5.78">Tartrate utilization</text>
<path d="M14.50 134.47 L118.30 134.47 L118.30 170.21 L14.50 170.21 M14.50 205.96 L94.30 205.96 L94.30 241.70 L14.50 241.70 M94.30 223.83 L102.20 223.83 L102.20 277.44 L14.50 277.44 M102.20 250.60 L106.40 250.60 L106.40 313.19 L14.50 313.19 M106.40 281.80 L113.60 281.80 L113.60 348.93 L14.50 348.93 M118.30 152.34 L127.60 152.34 L127.60 315.30 L113.60 315.30" fill="none" stroke="#0000d8" stroke-width="0.85" stroke-linejoin="miter"/>
<rect x="14.5" y="116.6" width="118.90" height="250.20" fill="none" stroke="#2a2a2a" stroke-width="1.0"/>
<text x="11.2" y="137.77" font-size="9" text-anchor="end">3</text>
<text x="11.2" y="173.51" font-size="9" text-anchor="end">0</text>
<text x="11.2" y="209.26" font-size="9" text-anchor="end">5</text>
<text x="11.2" y="245.00" font-size="9" text-anchor="end">4</text>
<text x="11.2" y="280.74" font-size="9" text-anchor="end">1</text>
<text x="11.2" y="316.49" font-size="9" text-anchor="end">2</text>
<text x="11.2" y="352.23" font-size="9" text-anchor="end">6</text>
</svg>
</body></html>
